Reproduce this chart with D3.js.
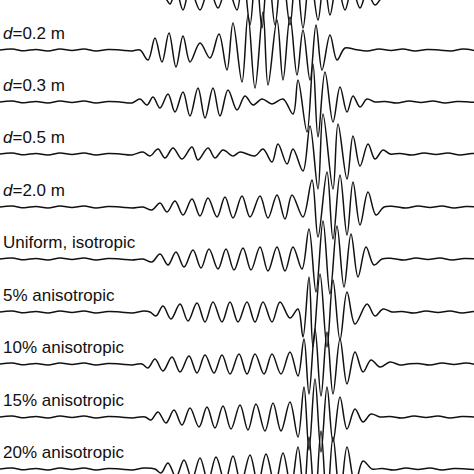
<!DOCTYPE html>
<html><head><meta charset="utf-8">
<script src="https://cdn.jsdelivr.net/npm/d3@7"></script>
<style>body{margin:0;background:#fff}svg{display:block}</style>
</head><body><svg id="c" width="474" height="474"></svg>
<script>
const labels = ["", "d=0.2 m", "d=0.3 m", "d=0.5 m", "d=2.0 m", "Uniform, isotropic", "5% anisotropic", "10% anisotropic", "15% anisotropic", "20% anisotropic"];
const quiet = [0, 1, -0.8, 0.6, -1, 1, -0.5, 0.9, -1, 0.5, 0, -0.9, 1, -0.6];
const tTop = [165,170,176,183,190,200,209,218,227,237,243,250,256,262,268,275,282,290,296,303,310,318,324,330,337,345,352,360,367,375,382];
const aTop = [0,-6,8,-12,10,-12,10,-10,12,-12,25,-27,30,-30,32,-27,30,-27,30,-30,25,-22,20,-17,15,-12,10,-10,6,-7,0];
const t02 = [140,148,155,162,169,176,183,190,200,210,219,227,233,242,248,255,263,268,277,283,290,297,303,310,316,322,330,337,345];
const a02 = [0,-10,12,-12,17,-17,14,-12,7,-8,16,-20,27,-32,35,-38,38,-35,30,-30,33,-25,20,-30,25,-20,15,-10,2];
const t03 = [140,147,153,160,168,175,183,190,198,205,213,220,228,237,245,253,262,272,283,293,298,307,313,318,325,333,340,347,353,360,367,375];
const a03 = [3,-3,5,-6,8,-10,10,-14,14,-16,14,-14,12,-8,6,-3,3,-2,3,-12,22,-30,38,-35,30,-20,15,-10,6,-5,3,0];
const t05 = [143,150,158,165,173,182,192,198,208,215,223,233,240,255,263,272,278,287,293,303,310,318,323,333,338,347,353,360,368,375,383,390];
const a05 = [2,-2,5,-4,6,-5,7,-6,6,-4,4,-2,2,-2,5,-8,10,-10,5,-17,28,-35,40,-35,30,-25,18,-12,10,-5,4,0];
const t20 = [143,152,160,167,175,183,192,200,208,217,225,233,242,250,260,268,277,285,292,303,312,318,327,333,340,347,353,360,368,376,384];
const a20 = [0,-3,4,-5,6,-8,8,-9,9,-10,10,-11,11,-10,11,-11,12,-12,12,-10,27,-30,35,-32,32,-28,25,-18,15,-8,0];
const tUni = [143,152,160,168,176,184,193,201,209,218,226,234,243,251,260,268,277,285,293,302,309,316,323,330,337,344,351,358,366,374,382];
const aUni = [0,-3,5,-6,7,-8,9,-9,10,-10,10,-11,11,-11,12,-12,12,-12,12,-10,30,-33,38,-35,33,-28,25,-18,12,-6,0];
const t5 = [150,156,163,171,180,188,197,205,213,222,230,238,247,255,263,272,280,290,298,303,309,313,320,327,333,340,347,355,367,375,383,392];
const a5 = [0,-4,6,-7,8,-9,9,-10,10,-10,10,-10,10,-10,10,-10,10,-6,3,-25,35,-35,38,-35,32,-28,20,-12,8,-4,3,0];
const t10 = [142,148,155,163,172,180,189,197,205,214,222,230,239,247,255,264,272,281,290,298,304,309,315,321,327,333,340,347,355,363,371,380,390,400,408];
const a10 = [0,-4,5,-7,7,-8,8,-9,9,-9,9,-10,10,-10,10,-10,10,-10,12,-12,25,-30,35,-32,32,-30,25,-20,12,-8,4,-3,2,-1,0];
const t15 = [145,151,158,166,174,182,190,199,207,215,223,231,240,248,256,265,273,281,290,298,304,309,315,321,327,333,340,347,355,363,371,380];
const a15 = [0,-3,5,-6,7,-8,9,-10,10,-11,11,-12,12,-13,13,-14,14,-14,15,-20,30,-33,38,-35,30,-25,20,-12,8,-5,3,0];
const t20p = [155,161,168,176,184,192,200,208,216,225,233,241,250,258,266,275,283,291,298,304,309,315,321,327,333,340,347,355,363,372];
const a20p = [0,-4,6,-8,9,-10,11,-12,12,-13,13,-14,14,-15,15,-16,16,-18,22,-25,32,-35,38,-35,32,-28,22,-15,8,0];

const tArr = [tTop,t02,t03,t05,t20,tUni,t5,t10,t15,t20p];
const aArr = [aTop,a02,a03,a05,a20,aUni,a5,a10,a15,a20p];
const baselines = [-2, 50, 102, 154, 207, 259, 312, 364, 417, 469];

const W = 474, H = 474;
const svg = d3.select("#c");
svg.append("rect").attr("width",W).attr("height",H).attr("fill","#fff");
const x = d3.scaleLinear().domain([0,474]).range([0,W]);
const amp = d3.scaleLinear().domain([-1,1]).range([0.8,-0.8]);
const line = d3.line().x(d=>x(d[0])).y(d=>d[1]).curve(d3.curveCatmullRom.alpha(0.5));

tArr.forEach((ts,k)=>{
  const b = baselines[k];
  const pts = [];
  let i=0;
  for(let t=0; t<ts[0]-4; t+=12, i++) pts.push([t, b+(quiet[i%quiet.length])*-1]);
  ts.forEach((t,j)=>pts.push([t, b-aArr[k][j]]));
  i=3;
  for(let t=ts[ts.length-1]+10; t<=W+12; t+=12, i++) pts.push([t, b-(quiet[i%quiet.length])]);
  svg.append("path").attr("d",line(pts)).attr("fill","none").attr("stroke","#111").attr("stroke-width",1.5);
  if(labels[k]){
    const tx = svg.append("text").attr("x",3).attr("y",b-11)
      .attr("font-family","Liberation Sans, Arial, sans-serif").attr("font-size",17).attr("fill","#111");
    if(labels[k].startsWith("d=")){
      tx.append("tspan").attr("font-style","italic").text("d");
      tx.append("tspan").text(labels[k].slice(1));
    } else tx.text(labels[k]);
  }
});
</script></body></html>
